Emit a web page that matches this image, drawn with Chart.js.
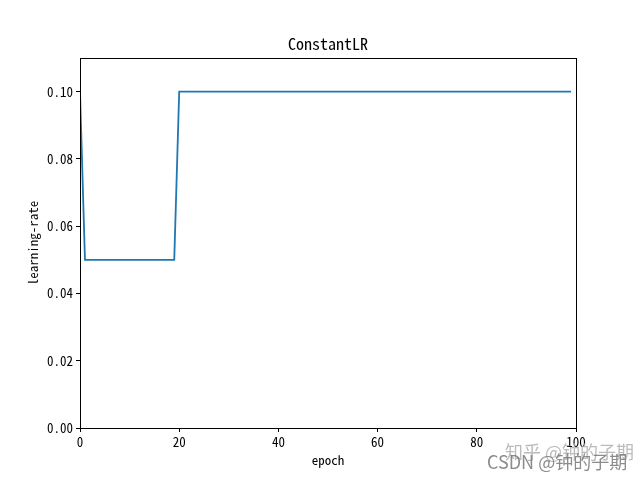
<!DOCTYPE html>
<html>
<head>
<meta charset="utf-8">
<script src="https://cdn.jsdelivr.net/npm/chart.js@4.4.0/dist/chart.umd.min.js"></script>
<style>
  html, body { margin: 0; background: #fff; }
</style>
</head>
<body>
<canvas id="c" width="640" height="480"></canvas>
<script>
const epochs = [
  0, 1, 2, 3, 4, 5, 6, 7, 8, 9, 10, 11, 12, 13, 14, 15, 16, 17, 18, 19,
  20, 21, 22, 23, 24, 25, 26, 27, 28, 29, 30, 31, 32, 33, 34, 35, 36, 37, 38, 39,
  40, 41, 42, 43, 44, 45, 46, 47, 48, 49, 50, 51, 52, 53, 54, 55, 56, 57, 58, 59,
  60, 61, 62, 63, 64, 65, 66, 67, 68, 69, 70, 71, 72, 73, 74, 75, 76, 77, 78, 79,
  80, 81, 82, 83, 84, 85, 86, 87, 88, 89, 90, 91, 92, 93, 94, 95, 96, 97, 98, 99
];
const learningRates = [
  0.1, 0.05, 0.05, 0.05, 0.05, 0.05, 0.05, 0.05, 0.05, 0.05,
  0.05, 0.05, 0.05, 0.05, 0.05, 0.05, 0.05, 0.05, 0.05, 0.05,
  0.1, 0.1, 0.1, 0.1, 0.1, 0.1, 0.1, 0.1, 0.1, 0.1,
  0.1, 0.1, 0.1, 0.1, 0.1, 0.1, 0.1, 0.1, 0.1, 0.1,
  0.1, 0.1, 0.1, 0.1, 0.1, 0.1, 0.1, 0.1, 0.1, 0.1,
  0.1, 0.1, 0.1, 0.1, 0.1, 0.1, 0.1, 0.1, 0.1, 0.1,
  0.1, 0.1, 0.1, 0.1, 0.1, 0.1, 0.1, 0.1, 0.1, 0.1,
  0.1, 0.1, 0.1, 0.1, 0.1, 0.1, 0.1, 0.1, 0.1, 0.1,
  0.1, 0.1, 0.1, 0.1, 0.1, 0.1, 0.1, 0.1, 0.1, 0.1,
  0.1, 0.1, 0.1, 0.1, 0.1, 0.1, 0.1, 0.1, 0.1, 0.1
];
const xTicks = [0, 20, 40, 60, 80, 100];
const yTicks = [0, 0.02, 0.04, 0.06, 0.08, 0.10];

const fontFamily = '"Noto Sans Mono CJK SC", "DejaVu Sans Mono", monospace';

// title, frame and watermark drawn on top of the chart
const framePlugin = {
  id: "frame",
  afterDraw: (chart) => {
    const { ctx, chartArea } = chart;
    ctx.save();
    ctx.strokeStyle = "#000";
    ctx.lineWidth = 1;
    ctx.strokeRect(chartArea.left + 0.5, chartArea.top + 0.5,
      chartArea.right - chartArea.left, chartArea.bottom - chartArea.top);

    ctx.fillStyle = "#000";
    ctx.font = "16px " + fontFamily;
    ctx.textAlign = "center";
    ctx.textBaseline = "middle";
    ctx.fillText("ConstantLR", (chartArea.left + chartArea.right) / 2, 44);

    ctx.font = '18px "Noto Sans CJK SC", sans-serif';
    ctx.textAlign = "left";
    ctx.fillStyle = "rgba(170,170,170,0.8)";
    ctx.fillText("知乎 @钟的子期", 505, 452);
    ctx.fillStyle = "rgba(120,120,120,0.85)";
    ctx.fillText("CSDN @钟的子期", 487, 462);
    ctx.restore();
  },
};

new Chart(document.getElementById("c"), {
  type: "line",
  data: {
    datasets: [{
      data: epochs.map((e, i) => ({ x: e, y: learningRates[i] })),
      borderColor: "#1f77b4",
      borderWidth: 1.8,
      pointRadius: 0,
      tension: 0,
      fill: false,
    }],
  },
  options: {
    responsive: false,
    devicePixelRatio: 1,
    animation: false,
    layout: { padding: { left: 0, top: 58, right: 64, bottom: 0 } },
    plugins: { legend: { display: false }, tooltip: { enabled: false } },
    scales: {
      x: {
        type: "linear",
        min: 0,
        max: 100,
        afterFit: (scale) => { scale.height = 52; },
        afterBuildTicks: (scale) => { scale.ticks = xTicks.map((v) => ({ value: v })); },
        grid: { drawOnChartArea: false, drawTicks: true, tickLength: 4, tickColor: "#000" },
        border: { color: "#000" },
        ticks: { color: "#000", font: { family: fontFamily, size: 13 }, padding: 2, maxRotation: 0 },
        title: { display: true, text: "epoch", color: "#000", font: { family: fontFamily, size: 13 }, padding: { top: 12, bottom: 12 } },
      },
      y: {
        min: 0,
        max: 0.11,
        afterFit: (scale) => { scale.width = 80; },
        afterBuildTicks: (scale) => { scale.ticks = yTicks.map((v) => ({ value: v })); },
        grid: { drawOnChartArea: false, drawTicks: true, tickLength: 4, tickColor: "#000" },
        border: { color: "#000" },
        ticks: {
          color: "#000",
          font: { family: fontFamily, size: 13 },
          padding: 3,
          callback: (v) => v.toFixed(2),
        },
        title: { display: true, text: "learning-rate", color: "#000", font: { family: fontFamily, size: 13 }, padding: { top: 25, bottom: 25 } },
      },
    },
  },
  plugins: [framePlugin],
});
</script>
</body>
</html>
